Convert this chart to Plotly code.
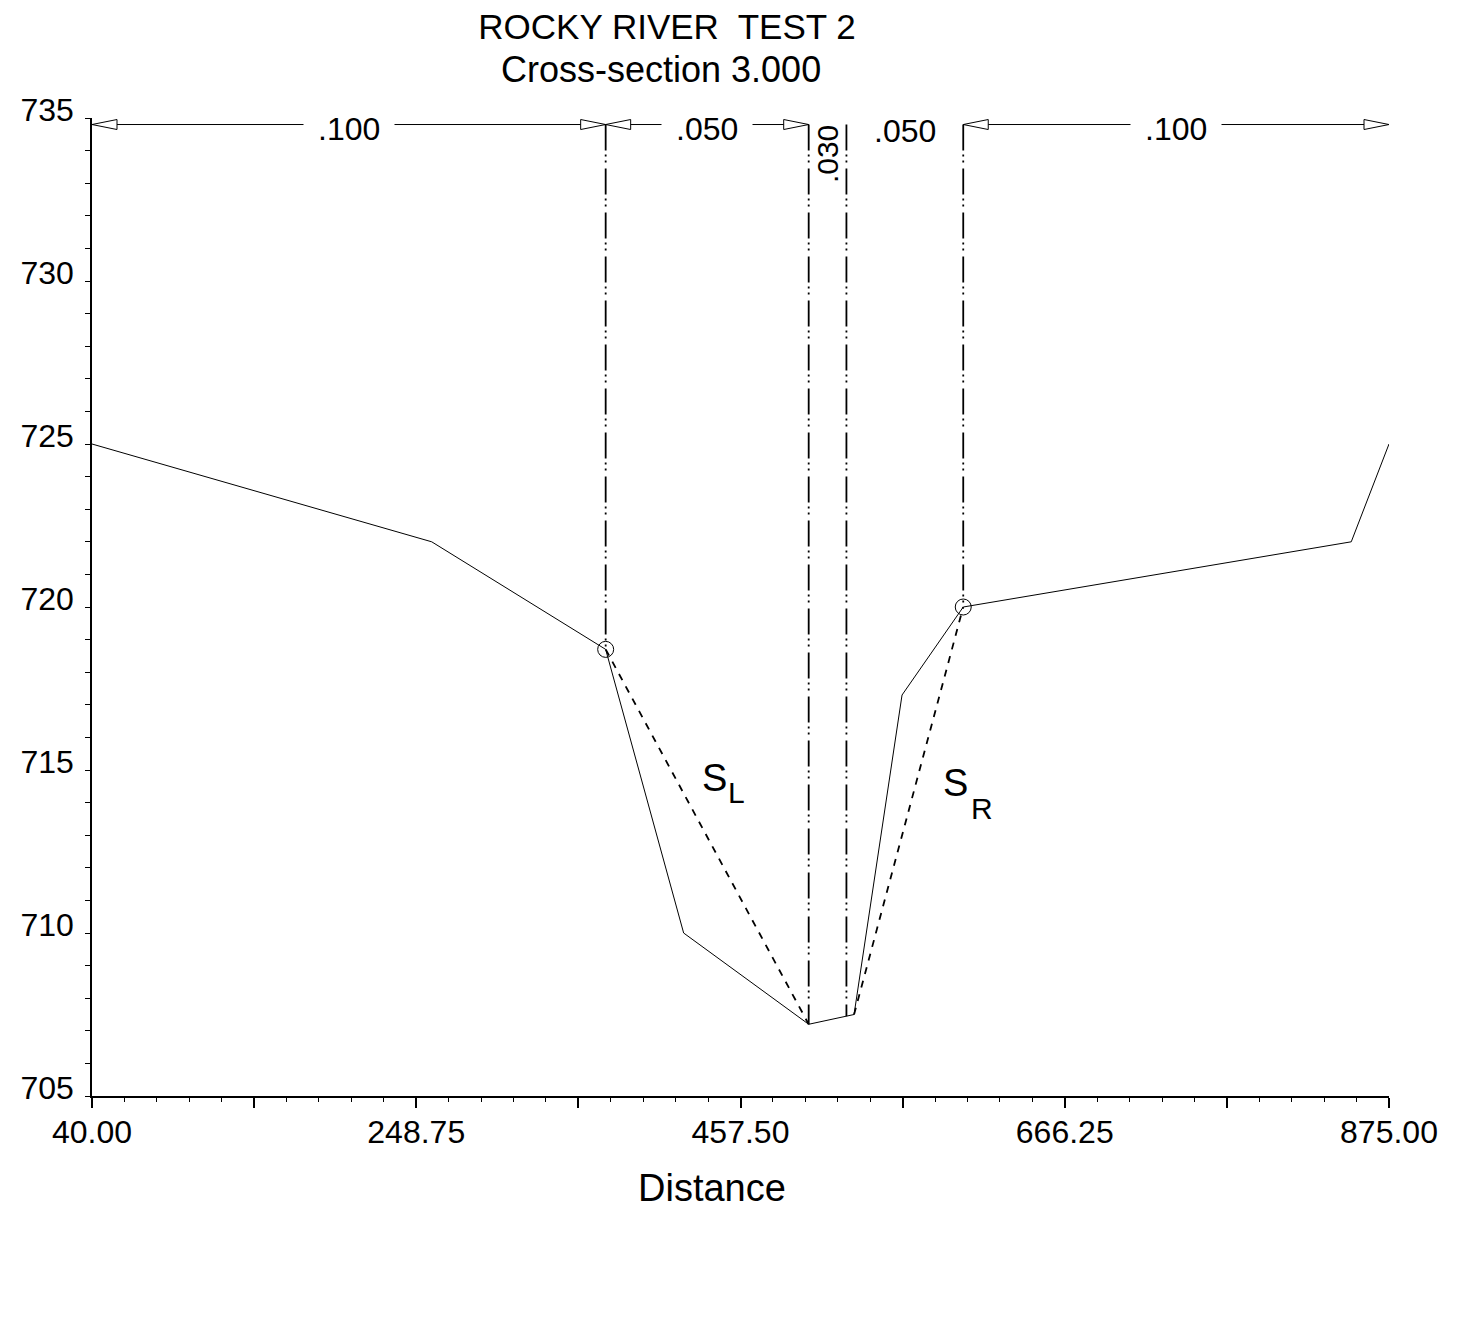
import numpy as np
import plotly.graph_objects as go

# ---------------- data ----------------
TITLE = "ROCKY RIVER\u00a0 TEST 2"
SUBTITLE = "Cross-section 3.000"
X_TITLE = "Distance"

STATION = [40.0, 258.7, 370.7, 420.9, 501.4, 530.6, 561.5, 600.9, 850.7, 875.0]
ELEVATION = [725.0, 722.0, 718.7, 710.0, 707.2, 707.5, 717.3, 720.0, 722.0, 725.0]

N_BOUNDARIES = [40.0, 370.7, 501.4, 525.7, 600.9, 875.0]
N_VALUES = [".100", ".050", ".030", ".050", ".100"]

BANK_STATIONS = [370.7, 600.9]
SL_STATIONS = [370.7, 501.4]
SR_STATIONS = [530.6, 600.9]

XTICK_VALS = [40.0, 248.75, 457.5, 666.25, 875.0]
XTICK_TEXT = ["40.00", "248.75", "457.50", "666.25", "875.00"]
YTICK_VALS = [705, 710, 715, 720, 725, 730, 735]
YTICK_TEXT = ["705", "710", "715", "720", "725", "730", "735"]
X_RANGE = [40.0, 875.0]
Y_RANGE = [705.0, 735.0]
ARROW_ELEV = 734.8

FONT = "Liberation Sans, Arial, sans-serif"
BLACK = "#000000"

# figure geometry (page body has an 8px margin)
FIG_W, FIG_H = 1442, 1306
M_L, M_T, M_R, M_B = 78, 110, 58, 218


def ground(x):
    return float(np.interp(x, STATION, ELEVATION))


fig = go.Figure()

# ground profile
fig.add_trace(go.Scatter(x=STATION, y=ELEVATION, mode="lines",
                         line=dict(color=BLACK, width=1), cliponaxis=False,
                         hoverinfo="skip", showlegend=False))

# bank slope lines S_L / S_R
for st in (SL_STATIONS, SR_STATIONS):
    fig.add_trace(go.Scatter(x=st, y=[ground(s) for s in st], mode="lines",
                             line=dict(color=BLACK, width=1.8, dash="7px,7px"),
                             hoverinfo="skip", showlegend=False))

# n-value boundary lines (dash-dot-dot)
bx, by = [], []
for b in N_BOUNDARIES[1:-1]:
    bx += [b, b, None]
    by += [ARROW_ELEV, ground(b), None]
fig.add_trace(go.Scatter(x=bx, y=by, mode="lines",
                         line=dict(color=BLACK, width=1.8,
                                   dash="26px,4px,2px,4px,2px,6px"),
                         hoverinfo="skip", showlegend=False))

# bank station circles
fig.add_trace(go.Scatter(x=BANK_STATIONS, y=[ground(s) for s in BANK_STATIONS],
                         mode="markers",
                         marker=dict(symbol="circle-open", size=16,
                                     color=BLACK, line=dict(width=1)),
                         hoverinfo="skip", showlegend=False))

# n-value dimension arrows and labels
ax_, ay_ = [], []
shapes = []
annotations = []
for i, nv in enumerate(N_VALUES):
    x0, x1 = N_BOUNDARIES[i], N_BOUNDARIES[i + 1]
    xm = 0.5 * (x0 + x1)
    w = x1 - x0
    if w > 100:
        ax_ += [x0, x1, None]
        ay_ += [ARROW_ELEV, ARROW_ELEV, None]
        for xa, sgn in ((x0, 1), (x1, -1)):
            shapes.append(dict(
                type="path", xref="x", yref="y",
                xsizemode="pixel", ysizemode="pixel",
                xanchor=xa, yanchor=ARROW_ELEV,
                path=f"M0,0 L{25*sgn},5 L{25*sgn},-5 Z",
                line=dict(color=BLACK, width=1), fillcolor="white",
                layer="above"))
        annotations.append(dict(x=xm, y=ARROW_ELEV, xref="x", yref="y",
                                text=nv, showarrow=False,
                                font=dict(family=FONT, size=32, color=BLACK),
                                bgcolor="white", borderpad=14, yshift=-4,
                                xanchor="center", yanchor="middle"))
    elif w < 40:
        annotations.append(dict(x=xm, y=ARROW_ELEV, xref="x", yref="y",
                                text=nv, showarrow=False, textangle=-90,
                                font=dict(family=FONT, size=30, color=BLACK),
                                yshift=-30, xanchor="center", yanchor="middle"))
    else:
        annotations.append(dict(x=xm, y=ARROW_ELEV, xref="x", yref="y",
                                text=nv, showarrow=False,
                                font=dict(family=FONT, size=32, color=BLACK),
                                yshift=-6, xanchor="center", yanchor="middle"))

fig.add_trace(go.Scatter(x=ax_, y=ay_, mode="lines",
                         line=dict(color=BLACK, width=1), cliponaxis=False,
                         hoverinfo="skip", showlegend=False))

# S_L / S_R labels
for txt, x, y, sz in (("S", 440.5, 714.75, 38), ("L", 454.9, 714.32, 30),
                      ("S", 595.6, 714.59, 38), ("R", 613.0, 713.83, 30)):
    annotations.append(dict(x=x, y=y, xref="x", yref="y", text=txt,
                            showarrow=False,
                            font=dict(family=FONT, size=sz, color=BLACK),
                            xanchor="center", yanchor="middle"))

# subtitle and x-axis title (paper coords relative to plot area)
annotations.append(dict(x=0.4387, y=1.0491, xref="paper", yref="paper",
                        text=SUBTITLE, showarrow=False,
                        font=dict(family=FONT, size=36, color=BLACK),
                        xanchor="center", yanchor="middle"))
annotations.append(dict(x=0.4778, y=-0.0941, xref="paper", yref="paper",
                        text=X_TITLE, showarrow=False,
                        font=dict(family=FONT, size=38, color=BLACK),
                        xanchor="center", yanchor="middle"))

# long ticks: labelled ones plus midpoints
long_ticks, long_text = [], []
for i, v in enumerate(XTICK_VALS):
    long_ticks.append(v)
    long_text.append(XTICK_TEXT[i])
    if i + 1 < len(XTICK_VALS):
        long_ticks.append(0.5 * (v + XTICK_VALS[i + 1]))
        long_text.append("")

fig.update_layout(
    width=FIG_W, height=FIG_H,
    paper_bgcolor="white", plot_bgcolor="white",
    margin=dict(l=M_L, r=M_R, t=M_T, b=M_B),
    font=dict(family=FONT, color=BLACK),
    title=dict(text=TITLE, x=659 / FIG_W, xanchor="center",
               y=1.0, yanchor="top", yref="container",
               pad=dict(t=6),
               font=dict(family=FONT, size=35, color=BLACK)),
    xaxis=dict(range=X_RANGE, tickmode="array", tickvals=long_ticks,
               ticktext=long_text, ticks="outside", ticklen=10, tickwidth=1.5,
               tickcolor=BLACK, showline=True, linecolor=BLACK, linewidth=1.5,
               showgrid=False, zeroline=False,
               tickfont=dict(family=FONT, size=32, color=BLACK),
               ticklabelstandoff=-3,
               minor=dict(dtick=(XTICK_VALS[1] - XTICK_VALS[0]) / 10,
                          tick0=XTICK_VALS[0], ticks="outside", ticklen=4,
                          tickwidth=1, tickcolor=BLACK, showgrid=False)),
    yaxis=dict(range=Y_RANGE, tickmode="array", tickvals=YTICK_VALS,
               ticktext=YTICK_TEXT, ticks="outside", ticklen=5, tickwidth=1,
               tickcolor=BLACK, showline=True, linecolor=BLACK, linewidth=1.5,
               showgrid=False, zeroline=False,
               tickfont=dict(family=FONT, size=32, color=BLACK),
               ticklabelstandoff=5, ticklabelshift=-8,
               minor=dict(dtick=1, tick0=705, ticks="outside", ticklen=5,
                          tickwidth=1, tickcolor=BLACK, showgrid=False)),
    shapes=shapes,
    annotations=annotations,
    showlegend=False,
)

fig.write_html("out.html")
